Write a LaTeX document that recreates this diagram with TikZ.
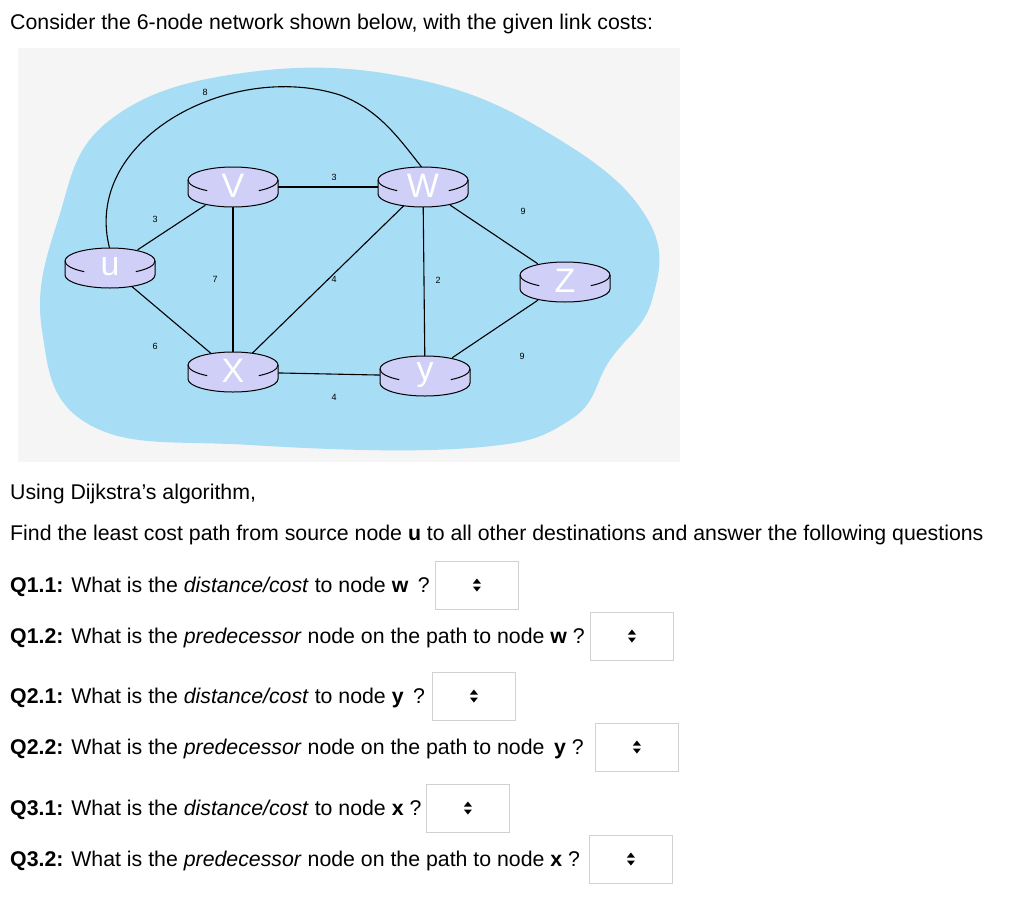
\documentclass[tikz,border=0pt]{standalone}
\usepackage{fontspec}
\setmainfont{Liberation Sans}
\begin{document}
\begin{tikzpicture}[x=1pt,y=-1pt,
  lbl/.style={font=\fontsize{9}{10}\selectfont},
  txt/.style={anchor=base west,inner sep=0,font=\fontsize{21.3}{24}\selectfont},
  selbox/.style={draw=black!18,line width=0.8pt,minimum width=83pt,minimum height=48pt,anchor=west},
  link/.style={line width=1.1pt},
  rnode/.style={minimum width=88pt,minimum height=36pt,inner sep=0}]
\definecolor{blob}{HTML}{A8DDF6}
\definecolor{rtr}{HTML}{CFCFF7}
\useasboundingbox (0,0) rectangle (1024,905);
\fill[white] (0,0) rectangle (1024,905);
\fill[black!4] (18,48) rectangle (680,462);
\fill[blob] plot[smooth cycle,tension=0.7] coordinates{(58,220)(110,120)(250,72)(420,80)(560,140)(648,220)(652,300)(610,360)(570,420)(470,448)(250,445)(90,425)(42,330)};
% router nodes
\foreach \n/\cx/\cy in {u/110/268,v/233/187,w/423/187,z/565/282,x/233/372,y/425/376}{
  \node[rnode] (\n) at (\cx,\cy) {};
}
% links
\draw[link] (u) -- (v);
\draw[link] (u) -- (x);
\draw[link] (v) -- (w);
\draw[link] (v) -- (x);
\draw[link] (x) -- (w);
\draw[link] (w) -- (y);
\draw[link] (x) -- (y);
\draw[link] (w) -- (z);
\draw[link] (y) -- (z);
\draw[link] (u.north) .. controls (80,140) and (230,60) .. (340,95) .. controls (380,110) and (400,140) .. (w.north);
% routers
\foreach \n/\cx/\cy/\l in {u/110/268/u,v/233/187/V,w/423/187/W,z/565/282/Z,x/233/372/X,y/425/376/y}{
  \fill[rtr,draw=black,line width=1pt] (\cx-45,\cy-7) -- (\cx-45,\cy+7) arc[start angle=180,end angle=0,x radius=45,y radius=13] -- (\cx+45,\cy-7) arc[start angle=0,end angle=-180,x radius=45,y radius=13] -- cycle;
  \draw[line width=1pt] (\cx-45,\cy-7) arc[start angle=180,end angle=125,x radius=45,y radius=13];
  \draw[line width=1pt] (\cx+45,\cy-7) arc[start angle=0,end angle=55,x radius=45,y radius=13];
  \node[white,font=\fontsize{34}{34}\selectfont,inner sep=0] at (\cx,\cy-1) {\l};
}
% labels
\node[lbl] at (205,92) {8};
\node[lbl] at (334,177) {3};
\node[lbl] at (523,211) {9};
\node[lbl] at (155,219) {3};
\node[lbl] at (215,279) {7};
\node[lbl] at (334,279) {4};
\node[lbl] at (438,280) {2};
\node[lbl] at (155,346) {6};
\node[lbl] at (522,356) {9};
\node[lbl] at (334,397) {4};
% text
\node[txt] (t0) at (10,29) {Consider the 6-node network shown below, with the given link costs:};
\node[txt] (t1) at (10,499) {Using Dijkstra's algorithm,};
\node[txt] (t2) at (10,540) {Find the least cost path from source node \textbf{u} to all other destinations and answer the following questions};
\foreach \q/\y/\bx/\t in {
 a/592/435/{\textbf{Q1.1:} What is the \textit{distance/cost} to node \textbf{w} \,?},
 b/643/590/{\textbf{Q1.2:} What is the \textit{predecessor} node on the path to node \textbf{w} ?},
 c/703/432/{\textbf{Q2.1:} What is the \textit{distance/cost} to node \textbf{y} \,?},
 d/754/595/{\textbf{Q2.2:} What is the \textit{predecessor} node on the path to node \,\textbf{y} ?},
 e/815/426/{\textbf{Q3.1:} What is the \textit{distance/cost} to node \textbf{x} ?},
 f/866/589/{\textbf{Q3.2:} What is the \textit{predecessor} node on the path to node \textbf{x} ?}}{
  \node[txt] (q\q) at (10,\y) {\t};
  \node[selbox] (s\q) at (\bx,\y-7) {};
  \fill (s\q.center) ++(-4,-1.5) -- ++(8,0) -- ++(-4,-5) -- cycle;
  \fill (s\q.center) ++(-4,1.5) -- ++(8,0) -- ++(-4,5) -- cycle;
}
\end{tikzpicture}
\end{document}
